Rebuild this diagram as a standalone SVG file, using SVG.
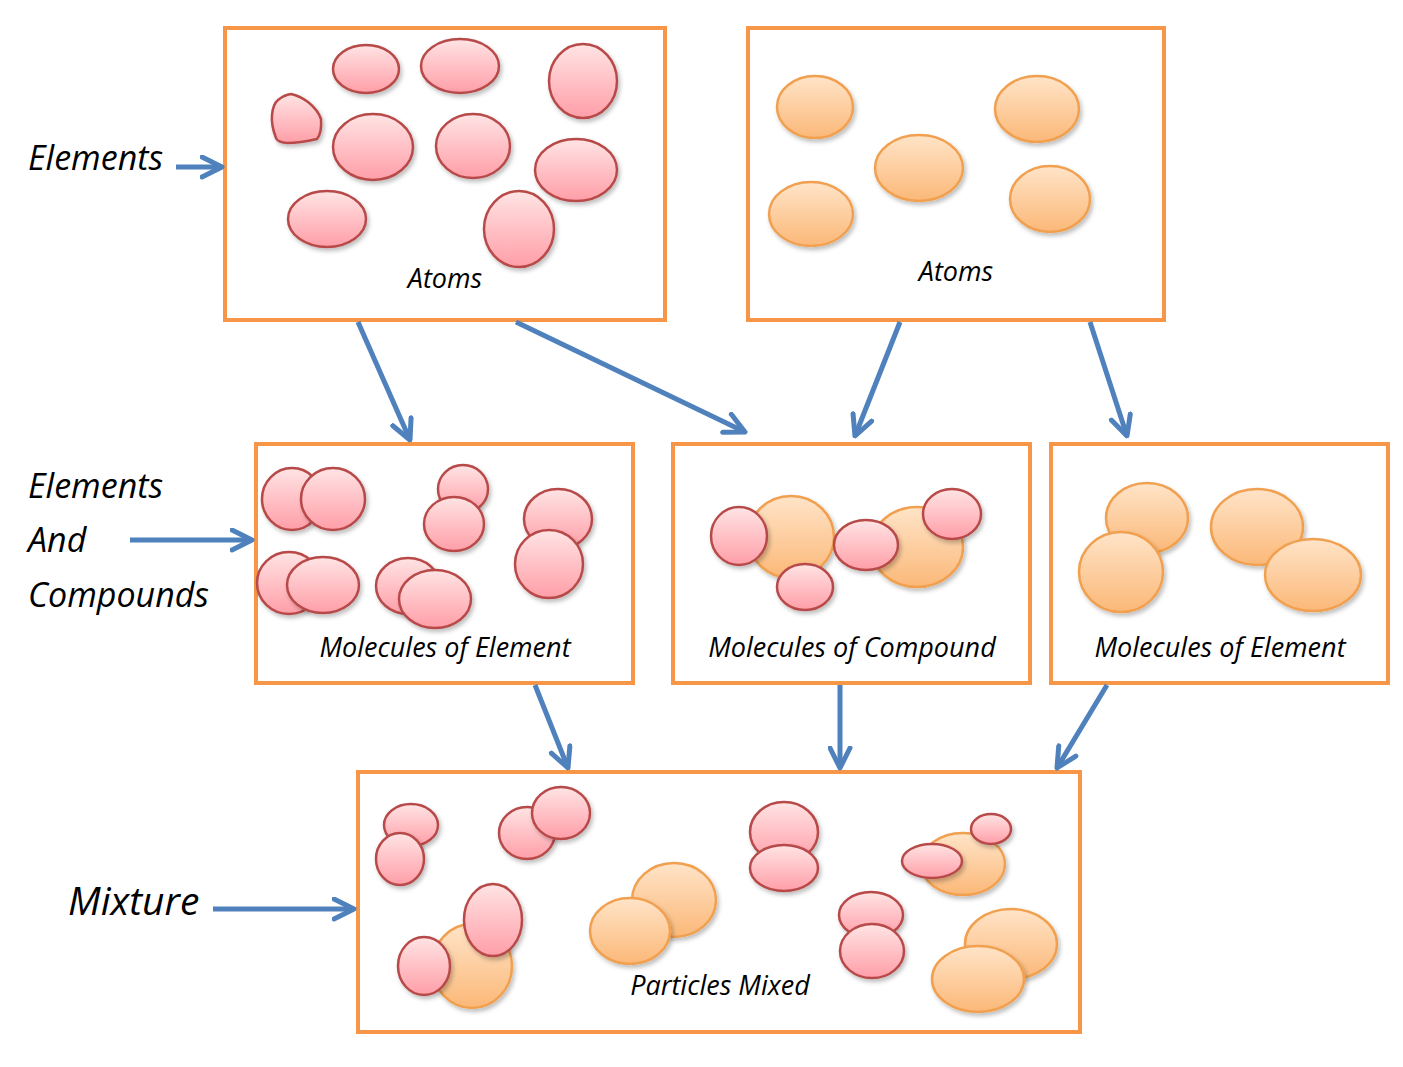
<svg xmlns="http://www.w3.org/2000/svg" width="1403" height="1067" viewBox="0 0 1403 1067">
<defs>
<linearGradient id="pk" x1="0" y1="0" x2="0" y2="1"><stop offset="0" stop-color="#ffe4e4"/><stop offset="1" stop-color="#ff9ea8"/></linearGradient>
<linearGradient id="og" x1="0" y1="0" x2="0" y2="1"><stop offset="0" stop-color="#ffe4c8"/><stop offset="1" stop-color="#fbb878"/></linearGradient>
<marker id="ah" viewBox="0 0 10 10" refX="9" refY="5" markerWidth="5" markerHeight="5" orient="auto" markerUnits="strokeWidth"><path d="M1,1 L9,5 L1,9" fill="none" stroke="#4f81bd" stroke-width="2" stroke-linecap="round" stroke-linejoin="round"/></marker>
<filter id="sh" x="-20%" y="-20%" width="150%" height="150%"><feDropShadow dx="2" dy="3" stdDeviation="2" flood-color="#000" flood-opacity="0.25"/></filter>
</defs>
<style>
.box{fill:#fff;stroke:#f79646;stroke-width:4}
.p{fill:url(#pk);stroke:#b84a4a;stroke-width:2.5;filter:url(#sh)}
.o{fill:url(#og);stroke:#f0a050;stroke-width:2.5;filter:url(#sh)}
.c{stroke:#4f81bd;stroke-width:5;fill:none;marker-end:url(#ah)}
text{font-family:"Open Sans","Liberation Sans",sans-serif;font-style:italic;fill:#000}
.bl{font-size:27px;text-anchor:middle}
.lb{font-size:34px}
</style>
<g id="box1"><rect class="box" x="225" y="28" width="440" height="292"/>
<ellipse class="p" cx="366" cy="69" rx="33" ry="24"/><ellipse class="p" cx="460" cy="66" rx="39" ry="27"/><ellipse class="p" cx="583" cy="81" rx="34" ry="37"/>
<path class="p" d="M278,100 Q284,95 291,94 Q300,96 308,102 Q318,110 321,119 Q322,133 317,139 Q300,143 287,143 Q277,142 276,138 Q271,125 272,115 Q273,104 278,100 Z"/>
<ellipse class="p" cx="373" cy="147" rx="40" ry="33"/><ellipse class="p" cx="473" cy="146" rx="37" ry="32"/><ellipse class="p" cx="576" cy="170" rx="41" ry="31"/><ellipse class="p" cx="327" cy="219" rx="39" ry="28"/><ellipse class="p" cx="519" cy="229" rx="35" ry="38"/>
<text class="bl" x="445" y="288">Atoms</text></g>
<g id="box2"><rect class="box" x="748" y="28" width="416" height="292"/>
<ellipse class="o" cx="815" cy="107" rx="38" ry="31"/><ellipse class="o" cx="1037" cy="109" rx="42" ry="33"/><ellipse class="o" cx="919" cy="168" rx="44" ry="33"/><ellipse class="o" cx="811" cy="214" rx="42" ry="32"/><ellipse class="o" cx="1050" cy="199" rx="40" ry="33"/>
<text class="bl" x="956" y="281">Atoms</text></g>
<g id="box3"><rect class="box" x="256" y="444" width="377" height="239"/>
<ellipse class="p" cx="292" cy="499" rx="30" ry="31"/><ellipse class="p" cx="333" cy="499" rx="32" ry="31"/>
<ellipse class="p" cx="463" cy="489" rx="25" ry="24"/><ellipse class="p" cx="454" cy="524" rx="30" ry="27"/>
<ellipse class="p" cx="558" cy="519" rx="34" ry="30"/><ellipse class="p" cx="549" cy="564" rx="34" ry="34"/>
<ellipse class="p" cx="289" cy="583" rx="32" ry="31"/><ellipse class="p" cx="323" cy="585" rx="36" ry="28"/>
<ellipse class="p" cx="408" cy="586" rx="32" ry="28"/><ellipse class="p" cx="435" cy="599" rx="36" ry="29"/>
<text class="bl" x="445" y="657">Molecules of Element</text></g>
<g id="box4"><rect class="box" x="673" y="444" width="357" height="239"/>
<ellipse class="o" cx="791" cy="537" rx="43" ry="41"/><ellipse class="p" cx="739" cy="536" rx="28" ry="29"/><ellipse class="p" cx="805" cy="587" rx="28" ry="23"/>
<ellipse class="o" cx="917" cy="547" rx="46" ry="40"/><ellipse class="p" cx="866" cy="545" rx="32" ry="25"/><ellipse class="p" cx="952" cy="514" rx="29" ry="25"/>
<text class="bl" x="852" y="657">Molecules of Compound</text></g>
<g id="box5"><rect class="box" x="1051" y="444" width="337" height="239"/>
<ellipse class="o" cx="1147" cy="518" rx="41" ry="35"/><ellipse class="o" cx="1121" cy="572" rx="42" ry="40"/>
<ellipse class="o" cx="1257" cy="527" rx="46" ry="38"/><ellipse class="o" cx="1313" cy="575" rx="48" ry="36"/>
<text class="bl" x="1220" y="657">Molecules of Element</text></g>
<g id="box6"><rect class="box" x="358" y="772" width="722" height="260"/>
<ellipse class="p" cx="411" cy="825" rx="27" ry="21"/><ellipse class="p" cx="400" cy="859" rx="24" ry="26"/>
<ellipse class="p" cx="527" cy="833" rx="28" ry="26"/><ellipse class="p" cx="561" cy="813" rx="29" ry="26"/>
<ellipse class="o" cx="472" cy="966" rx="40" ry="42"/><ellipse class="p" cx="493" cy="920" rx="29" ry="36"/><ellipse class="p" cx="424" cy="966" rx="26" ry="29"/>
<ellipse class="o" cx="674" cy="900" rx="42" ry="37"/><ellipse class="o" cx="630" cy="931" rx="40" ry="33"/>
<ellipse class="p" cx="784" cy="832" rx="34" ry="30"/><ellipse class="p" cx="784" cy="868" rx="34" ry="23"/>
<ellipse class="p" cx="871" cy="915" rx="32" ry="23"/><ellipse class="p" cx="872" cy="951" rx="32" ry="27"/>
<ellipse class="o" cx="963" cy="864" rx="42" ry="31"/><ellipse class="p" cx="932" cy="861" rx="30" ry="17"/><ellipse class="p" cx="991" cy="829" rx="20" ry="15"/>
<ellipse class="o" cx="1011" cy="944" rx="46" ry="35"/><ellipse class="o" cx="978" cy="979" rx="46" ry="33"/>
<text class="bl" x="720" y="995">Particles Mixed</text></g>
<g id="labels">
<text class="lb" x="28" y="170">Elements</text>
<text class="lb" x="28" y="498">Elements</text>
<text class="lb" x="28" y="552">And</text>
<text class="lb" x="28" y="607">Compounds</text>
<text class="lb" x="68" y="915" style="font-size:39px">Mixture</text>
</g>
<g id="connectors">
<line class="c" x1="176" y1="167" x2="222" y2="167"/>
<line class="c" x1="130" y1="540" x2="252" y2="540"/>
<line class="c" x1="213" y1="909" x2="354" y2="909"/>
<line class="c" x1="358" y1="322" x2="410" y2="440"/>
<line class="c" x1="516" y1="322" x2="745" y2="432"/>
<line class="c" x1="900" y1="322" x2="855" y2="436"/>
<line class="c" x1="1090" y1="322" x2="1127" y2="436"/>
<line class="c" x1="535" y1="685" x2="568" y2="768"/>
<line class="c" x1="840" y1="685" x2="840" y2="768"/>
<line class="c" x1="1107" y1="685" x2="1057" y2="768"/>
</g>
</svg>
